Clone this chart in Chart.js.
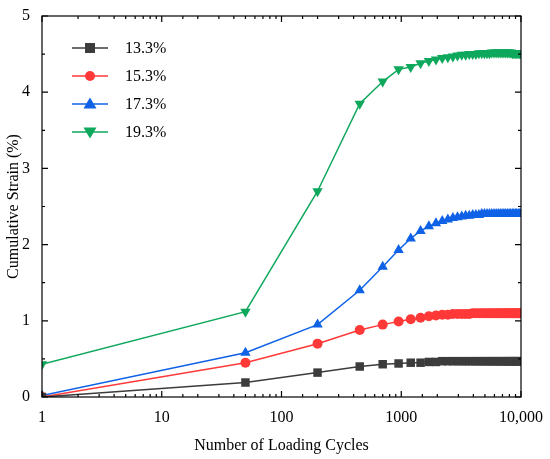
<!DOCTYPE html>
<html><head><meta charset="utf-8">
<script src="https://cdn.jsdelivr.net/npm/chart.js@4/dist/chart.umd.min.js"></script>
<style>html,body{margin:0;padding:0;background:#fff}#c{display:block}</style>
</head><body>
<canvas id="c" width="550" height="459"></canvas>
<script>
const cycles=[1,50,200,450,700,950,1200,1450,1700,1950,2200,2450,2700,2950,3200,3450,3700,3950,4200,4450,4700,4950,5200,5450,5700,5950,6200,6450,6700,6950,7200,7450,7700,7950,8200,8450,8700,8950,9200,9450,9700,9950];
const labels=['13.3%','15.3%','17.3%','19.3%'];
const s133=[0.00,0.19,0.32,0.40,0.43,0.44,0.45,0.45,0.46,0.46,0.47,0.47,0.47,0.47,0.47,0.47,0.47,0.47,0.47,0.47,0.47,0.47,0.47,0.47,0.47,0.47,0.47,0.47,0.47,0.47,0.47,0.47,0.47,0.47,0.47,0.47,0.47,0.47,0.47,0.47,0.47,0.47];
const s153=[0.00,0.45,0.70,0.88,0.95,0.99,1.02,1.04,1.06,1.07,1.08,1.08,1.09,1.09,1.09,1.09,1.09,1.10,1.10,1.10,1.10,1.10,1.10,1.10,1.10,1.10,1.10,1.10,1.10,1.10,1.10,1.10,1.10,1.10,1.10,1.10,1.10,1.10,1.10,1.10,1.10,1.10];
const s173=[0.02,0.58,0.95,1.40,1.71,1.93,2.08,2.18,2.24,2.28,2.31,2.33,2.35,2.36,2.37,2.38,2.38,2.39,2.39,2.39,2.40,2.40,2.40,2.40,2.40,2.40,2.40,2.40,2.40,2.40,2.40,2.40,2.40,2.40,2.40,2.40,2.40,2.40,2.40,2.40,2.40,2.40];
const s193=[0.43,1.12,2.70,3.85,4.14,4.30,4.33,4.38,4.41,4.43,4.45,4.46,4.47,4.48,4.49,4.49,4.50,4.50,4.50,4.51,4.51,4.51,4.51,4.51,4.52,4.52,4.52,4.52,4.52,4.52,4.52,4.52,4.52,4.52,4.52,4.51,4.51,4.51,4.51,4.51,4.51,4.51];
const colors=['#3c3c3c','#ff3838','#0f62e6','#0ea85c'];
const styles=['rect','circle','triangle','triangle'];
const rots=[0,0,0,180];
const series=[s133,s153,s173,s193];
const FONT='"Liberation Serif", serif';
const datasets=series.map((s,i)=>({label:labels[i],data:cycles.map((c,j)=>({x:c,y:s[j]})),borderColor:colors[i],backgroundColor:colors[i],borderWidth:1.5,pointStyle:styles[i],rotation:rots[i],pointRadius:i===1?5:6,pointBorderWidth:0}));
const deco={id:'deco',afterDraw(ch){const c=ch.ctx,a=ch.chartArea,xs=ch.scales.x,ys=ch.scales.y;
c.save();c.strokeStyle='#000';c.lineWidth=1.2;c.strokeRect(a.left,a.top,a.right-a.left,a.bottom-a.top);
c.beginPath();
xs.ticks.forEach(t=>{const v=t.value;const px=xs.getPixelForValue(v);const major=Math.abs(Math.log10(v)-Math.round(Math.log10(v)))<1e-6;const L=major?6:3;
c.moveTo(px,a.bottom);c.lineTo(px,a.bottom-L);c.moveTo(px,a.top);c.lineTo(px,a.top+L);});
for(let k=0;k<=10;k++){const v=k*0.5;const py=ys.getPixelForValue(v);const L=k%2===0?6:3;c.moveTo(a.left,py);c.lineTo(a.left+L,py);c.moveTo(a.right,py);c.lineTo(a.right-L,py);}
c.stroke();
c.font='16px '+FONT;c.textBaseline='middle';
labels.forEach((l,i)=>{const y=48+i*28;c.strokeStyle=colors[i];c.lineWidth=1.5;c.beginPath();c.moveTo(72,y);c.lineTo(108,y);c.stroke();
c.fillStyle=colors[i];c.beginPath();
if(i===0){c.fillRect(85,y-5,10,10);}else if(i===1){c.arc(90,y,5,0,2*Math.PI);c.fill();}
else if(i===2){c.moveTo(90,y-6.5);c.lineTo(96.5,y+4.5);c.lineTo(83.5,y+4.5);c.closePath();c.fill();}
else{c.moveTo(90,y+6.5);c.lineTo(96.5,y-4.5);c.lineTo(83.5,y-4.5);c.closePath();c.fill();}
c.fillStyle='#000';c.fillText(l,125,y+1);});
c.restore();}};
new Chart(document.getElementById('c'),{type:'line',data:{datasets},plugins:[deco],
options:{responsive:false,animation:false,layout:{padding:{left:0,top:16,right:29,bottom:0}},
plugins:{legend:{display:false},tooltip:{enabled:false}},
scales:{x:{type:'logarithmic',min:1,max:10000,grid:{display:false},border:{display:false},
afterFit(s){s.height=62;},
ticks:{autoSkip:false,maxRotation:0,color:'#000',font:{family:FONT,size:16},padding:3,callback:(v)=>({1:'1',10:'10',100:'100',1000:'1000',10000:'10,000'})[v]||''},
title:{display:true,text:'Number of Loading Cycles',color:'#000',font:{family:FONT,size:16},padding:{top:4}}},
y:{min:0,max:5,grid:{display:false},border:{display:false},afterFit(s){s.width=42;},
ticks:{stepSize:1,color:'#000',font:{family:FONT,size:16},padding:4},
title:{display:true,text:'Cumulative Strain (%)',color:'#000',font:{family:FONT,size:16},padding:{bottom:0}}}}}});
</script></body></html>
